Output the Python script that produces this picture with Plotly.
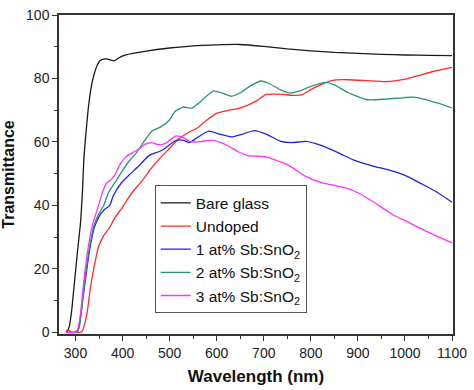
import plotly.graph_objects as go

# ---- data ----
bare_x = [280, 283, 287, 292, 297, 304, 311, 315, 318, 323, 328, 335, 340, 345, 352, 360, 368, 375, 383, 392, 407, 450, 500, 550, 600, 650, 700, 750, 800, 850, 900, 950, 1000, 1050, 1100]
bare_y = [0, 0.5, 2, 7, 14.5, 25, 35, 45, 55, 64, 71.6, 78.5, 81.5, 83.8, 85.6, 86.1, 86.1, 85.8, 85.6, 86.5, 87.4, 88.6, 89.6, 90.3, 90.6, 90.7, 90.1, 89.3, 88.7, 88.2, 87.9, 87.6, 87.4, 87.3, 87.2]

undoped_x = [280, 283, 287, 292, 300, 310, 315, 320, 325, 330, 335, 340, 349, 360, 370, 376, 383, 400, 420, 440, 460, 480, 500, 520, 540, 560, 580, 600, 620, 645, 665, 686, 705, 720, 740, 760, 780, 800, 820, 850, 880, 920, 960, 1000, 1030, 1060, 1100]
undoped_y = [0, 0.8, 0.6, 0, 0, 0, 0.5, 3, 6.5, 12, 17, 21, 27, 30.5, 32.5, 34, 36, 39.5, 44, 47.5, 51.5, 55, 58, 61, 63, 64.5, 67, 69, 69.8, 70.5, 71.5, 73.1, 75, 75.1, 75, 74.7, 74.8, 76.5, 78, 79.5, 79.6, 79.3, 79, 79.8, 81, 82.2, 83.5]

sb1_x = [280, 300, 305, 310, 315, 321, 330, 340, 350, 360, 373, 380, 397, 414, 435, 456, 483, 514, 530, 542, 560, 583, 605, 631, 655, 680, 705, 734, 760, 790, 820, 860, 893, 930, 970, 1000, 1038, 1070, 1100]
sb1_y = [0, 0, 0.5, 4, 10, 16.5, 26, 33, 36.5, 38.5, 40, 43, 47, 49.6, 52.5, 55.7, 57.3, 60.5, 60.5, 59.8, 61.5, 63.4, 62.5, 61.6, 62.5, 63.6, 62.5, 60.3, 59.8, 60.2, 59, 56.5, 54.2, 52.5, 51, 49.5, 46.6, 44, 41]

sb2_x = [280, 295, 303, 308, 313, 320, 330, 340, 350, 360, 370, 385, 400, 414, 428, 445, 462, 483, 500, 511, 528, 548, 560, 576, 593, 610, 631, 650, 670, 693, 710, 735, 755, 775, 800, 831, 850, 880, 920, 960, 1000, 1017, 1040, 1070, 1100]
sb2_y = [0, 0, 0, 1.5, 7, 16.5, 27, 34, 37.5, 40, 44, 47.5, 51, 54, 56.3, 60, 63.4, 64.9, 67, 69.5, 71, 70.7, 72, 74.1, 76.1, 75.5, 74.4, 75.5, 77.5, 79.2, 78.5, 76.5, 75.4, 76, 77.5, 78.8, 78, 75.5, 73.3, 73.5, 74, 74.1, 73.5, 72.2, 70.7]

sb3_x = [280, 295, 300, 305, 311, 318, 327, 336, 349, 357, 366, 375, 383, 395, 407, 420, 435, 448, 462, 475, 490, 500, 514, 530, 542, 560, 575, 590, 605, 624, 645, 666, 690, 707, 730, 748, 770, 790, 824, 850, 872, 900, 934, 976, 1003, 1050, 1100]
sb3_y = [0, 0, 0.3, 1, 6.4, 16.5, 26.7, 33.8, 40, 44, 47, 48, 49.5, 53, 55.3, 56.5, 57.8, 59.3, 59.8, 59.2, 59.5, 60.5, 61.9, 61.3, 60.2, 60, 60.3, 60.6, 60, 58.8, 57, 55.7, 55.5, 55.2, 54, 53, 51, 49.1, 47.1, 46.3, 45.6, 44, 41, 36.9, 35, 31.5, 28.2]

names = ["Bare glass", "Undoped", "1 at% Sb:SnO<sub>2</sub>", "2 at% Sb:SnO<sub>2</sub>", "3 at% Sb:SnO<sub>2</sub>"]
colors = ["#1a1a1a", "#ff2a2a", "#2222dd", "#2a9479", "#ff33ff"]
xs = [bare_x, undoped_x, sb1_x, sb2_x, sb3_x]
ys = [bare_y, undoped_y, sb1_y, sb2_y, sb3_y]

x_ticks = [300, 400, 500, 600, 700, 800, 900, 1000, 1100]
y_ticks = [0, 20, 40, 60, 80, 100]

fig = go.Figure()
for x, y, n, c in zip(xs, ys, names, colors):
    fig.add_trace(go.Scatter(x=x, y=y, name=n, mode="lines",
                             line=dict(color=c, width=1.3, shape="spline", smoothing=0.5)))

font_family = "Liberation Sans, Arial, sans-serif"
axis_common = dict(showline=True, linecolor="#333333", linewidth=1.5, mirror=True,
                   ticks="outside", ticklen=5, tickwidth=1.2, tickcolor="#333333",
                   showgrid=False, zeroline=False, ticklabeloverflow="allow",
                   tickfont=dict(family=font_family, size=14, color="#222222"))

fig.update_layout(
    width=474, height=390,
    margin=dict(l=56, r=13, t=7, b=55),
    paper_bgcolor="white", plot_bgcolor="white",
    font=dict(family=font_family, color="#111111"),
    xaxis=dict(range=[265, 1102], tickvals=x_ticks,
               minor=dict(ticks="outside", ticklen=3, dtick=50, tick0=300, tickcolor="#333333"),
               title=dict(text="<b>Wavelength (nm)</b>", font=dict(size=17, family=font_family), standoff=11),
               **axis_common),
    yaxis=dict(range=[-0.5, 100], tickvals=y_ticks,
               minor=dict(ticks="outside", ticklen=3, dtick=10, tick0=0, tickcolor="#333333"),
               title=dict(text="<b>Transmittance</b>", font=dict(size=16, family=font_family), standoff=8),
               **axis_common),
    legend=dict(x=0.243, y=0.466, xanchor="left", yanchor="top",
                bordercolor="#555555", borderwidth=1, bgcolor="white",
                font=dict(family=font_family, size=15.5, color="#111111"),
                itemwidth=30, tracegroupgap=0),
    showlegend=True,
)

fig.write_html("out.html")
